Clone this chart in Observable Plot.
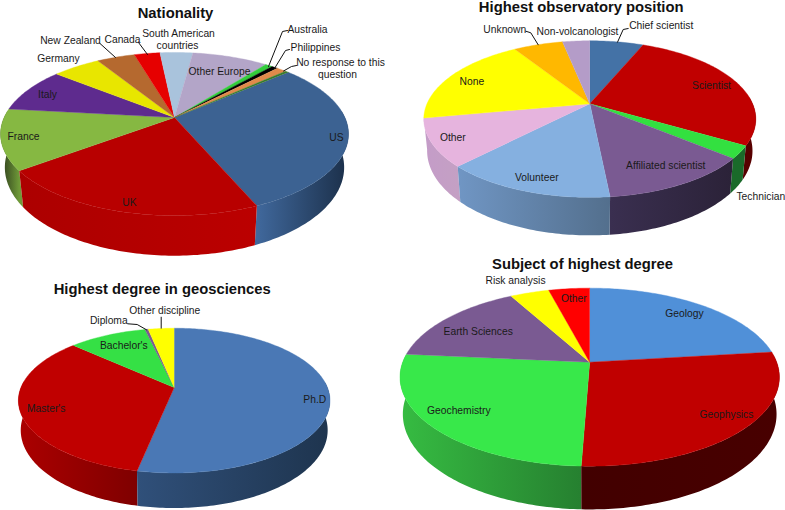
<!DOCTYPE html>
<html><head><meta charset="utf-8">
<script src="https://cdn.jsdelivr.net/npm/d3@7"></script>
<script src="https://cdn.jsdelivr.net/npm/@observablehq/plot@0.6"></script>
<style>html,body{margin:0;padding:0;background:#fff}svg{display:block}</style>
</head><body><div id="chart"></div>
<script>
// ---- values (percent of respondents)
const nationalityNames = ["US","UK","France","Italy","Germany","New Zealand","Canada","South American countries","Other Europe","Australia","Philippines","No response to this question","(unlabelled)"];
const nationalityValues = [29.9,21.2,12.0,9.0,5.4,4.3,2.9,3.7,8.6,0.8,0.7,1.1,0.4];
const positionNames = ["Chief scientist","Scientist","Technician","Affiliated scientist","Volunteer","Other","None","Unknown","Non-volcanologist"];
const positionValues = [6.3,27.1,2.6,12.4,13.9,9.8,18.9,5.8,3.2];
const degreeNames = ["Ph.D","Master's","Bachelor's","Diploma","Other discipline"];
const degreeValues = [53.2,33.6,9.6,0.4,3.2];
const subjectNames = ["Geology","Geophysics","Geochemistry","Earth Sciences","Risk analysis","Other"];
const subjectValues = [23.1,27.5,25.9,15.5,3.9,4.1];

// ---- styles
const nationalityTop = ["#3c6292","#b80000","#86b842","#5e2b8e","#e8e600","#b5692f","#e60000","#a9c3dc","#b3a5c8","#33cc3c","#000000","#e08a4a","#3a7a2a"];
const nationalityWall = [["#1b2f49","#40689c"],["#bb0000","#ac0000"],["#6f9a38","#2c3a1c"]];
const positionTop = ["#4472a6","#c00000","#33e040","#7a5a92","#85b0e0","#e6b4de","#ffff00","#ffb800","#b49cc8"];
const positionWall = [null,["#5a0000","#560000"],["#1a6a2a","#1a6a2a"],["#2b2238","#3a2f50"],["#536f8d","#7096c4"],["#c4a0c4","#c49cc8"]];
const degreeTop = ["#4a78b5","#c00000","#35e045","#7a5a92","#ffff00"];
const degreeWall = [["#1e344e","#30507a"],["#7f0000","#ab0000"]];
const subjectTop = ["#5090d8","#c00000","#38e84a","#7a5a92","#ffff00","#ff0000"];
const subjectWall = [null,["#480000","#420000"],["#268030","#36bc42"]];

// ---- layout of each pie in the picture: apex, half-height, perspective, half-width, wall depth
const pies = [
  {values:nationalityValues,top:nationalityTop,wall:nationalityWall,cx:174,cy:117,a:78.2,k:.2025,rx:174,d:32,s:.975,start:49.2},
  {values:positionValues,top:positionTop,wall:positionWall,cx:589.3,cy:103.3,a:75.3,k:.195,rx:166,d:30.6,s:.98,start:0},
  {values:degreeValues,top:degreeTop,wall:degreeWall,cx:173.7,cy:387,a:70,k:.181,rx:155.8,d:28.7,s:.985,start:0},
  {values:subjectValues,top:subjectTop,wall:subjectWall,cx:589.2,cy:361.7,a:86.5,k:.168,rx:189.7,d:36,s:.985,start:0}
];

const titles = [["Nationality",175,13],["Highest observatory position",580.7,6.5],["Highest degree in geosciences",161.7,289],["Subject of highest degree",582,264]];
const labels = [
 ["New Zealand",70,40],["Canada",122,39],["South American",178,33],["countries",177,45],["Germany",58,58],["Italy",47,94],["France",23,136],["UK",129,202],["US",336,137],["Other Europe",219,71],["Australia",307,29],["Philippines",315,47],["No response to this",340,62],["question",337,74],
 ["Chief scientist",660.7,25],["Non-volcanologist",577,31],["Unknown",504.3,29],["None",471.3,81],["Scientist",711,85.7],["Other",452.3,137],["Volunteer",536.3,177.7],["Affiliated scientist",665.3,165],["Technician",760.3,196.7],
 ["Other discipline",164.3,310],["Diploma",108.3,320],["Bachelor's",123.3,345.7],["Master's",45.7,408.3],["Ph.D",314.3,399.7],
 ["Risk analysis",515,280.3],["Other",573.3,298.7],["Geology",684,313.7],["Earth Sciences",477.7,331.7],["Geochemistry",458.3,410],["Geophysics",726,414.7]
];
const leaders = [
 [[99.5,43],[115,57]],[[138,42],[147,54]],
 [[287,30],[282,31],[268,66]],[[289,49],[285,50],[274,68]],[[296,65],[291,66],[283,70.5]],
 [[627.7,28],[622.7,29],[617,41.7]],[[525.3,30.7],[530.3,32.3],[537.7,44.3]],
 [[160.7,316.7],[160.7,327.7]],[[127.3,323.3],[136.7,324],[146,329.3]]
];

// ---- geometry: a tilted circle seen in perspective
function rim(p, deg) {
  const t = deg * Math.PI / 180, u = Math.sin(t), v = -Math.cos(t);
  const B = p.rx * Math.sqrt(1 - p.k * p.k), w = 1 - p.k * v;
  const x = p.cx + B * u / w, y = p.cy + p.a * v / w;
  return {x, y, v, bx: p.cx + (x - p.cx) * p.s, by: y + p.d / w};
}
const wallPts = [], topPts = [], gradients = [];
pies.forEach((p, pi) => {
  const total = d3.sum(p.values); let acc = p.start; const walls = [];
  p.values.forEach((val, i) => {
    const a0 = acc, a1 = acc + val / total * 360; acc = a1;
    const n = Math.max(1, Math.ceil(a1 - a0));
    const pts = [{x:p.cx,y:p.cy}];
    for (let j = 0; j <= n; j++) pts.push(rim(p, a0 + (a1 - a0) * j / n));
    pts.forEach(q => topPts.push({x:q.x,y:q.y,z:`${pi}-${i}`,c:p.top[i]}));
    const lo = Math.max(a0, 85), hi = Math.min(a1, 275);
    if (hi <= lo || !p.wall[i]) return;
    const m = Math.ceil(hi - lo), arc = d3.range(m + 1).map(j => rim(p, lo + (hi - lo) * j / m));
    const id = `wall-${pi}-${i}`;
    gradients.push({id, x1:rim(p, Math.max(a0, 100)).x, x2:rim(p, Math.min(a1, 260)).x, c:p.wall[i]});
    walls.push({v:d3.mean(arc, r => r.v), arc, id});
  });
  walls.sort((a, b) => a.v - b.v).forEach(w => {
    const ring = [...w.arc.map(r => [r.x, r.y]), ...w.arc.slice().reverse().map(r => [r.bx, r.by]), [w.arc[0].x, w.arc[0].y]];
    ring.forEach(([x,y]) => wallPts.push({x,y,z:w.id,c:`url(#${w.id})`}));
  });
});
const leaderPts = leaders.flatMap((l, i) => l.map(([x,y]) => ({x,y,z:i})));
const font = "'Liberation Sans', Arial, sans-serif";

function gradientDefs() {
  const ns = "http://www.w3.org/2000/svg";
  const defs = document.createElementNS(ns, "defs");
  for (const g of gradients) {
    const el = document.createElementNS(ns, "linearGradient");
    el.setAttribute("id", g.id);
    el.setAttribute("gradientUnits", "userSpaceOnUse");
    el.setAttribute("x1", g.x1); el.setAttribute("x2", g.x2);
    el.setAttribute("y1", 0); el.setAttribute("y2", 0);
    g.c.forEach((c, i) => {
      const s = document.createElementNS(ns, "stop");
      s.setAttribute("offset", i); s.setAttribute("stop-color", c);
      el.append(s);
    });
    defs.append(el);
  }
  return defs;
}

document.getElementById("chart").append(Plot.plot({
  width:785, height:510, margin:0,
  x:{domain:[0,785],range:[0,785],axis:null},
  y:{domain:[0,510],range:[0,510],axis:null},
  color:{type:"identity"},
  style:{fontFamily:font,background:"#fff"},
  marks:[
    gradientDefs,
    Plot.line(wallPts,{x:"x",y:"y",z:"z",fill:"c",stroke:"none"}),
    Plot.line(topPts,{x:"x",y:"y",z:"z",fill:"c",stroke:"c",strokeWidth:.4}),
    Plot.line(leaderPts,{x:"x",y:"y",z:"z",stroke:"#111",strokeWidth:1}),
    Plot.text(labels,{x:d=>d[1],y:d=>d[2],text:d=>d[0],fontSize:10.3,fill:"#1a1a1a"}),
    Plot.text(titles,{x:d=>d[1],y:d=>d[2],text:d=>d[0],fontSize:14.8,fontWeight:"bold",fill:"#111"})
  ]
}));
</script></body></html>
